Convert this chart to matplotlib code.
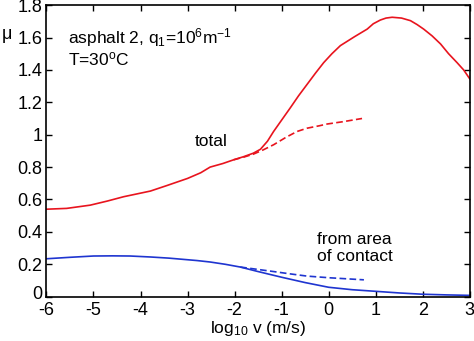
import matplotlib
matplotlib.use("Agg")
import matplotlib.pyplot as plt
import matplotlib.transforms as mtransforms
import numpy as np

plt.rcParams['font.family'] = ['Liberation Sans', 'DejaVu Sans']
plt.rcParams['mathtext.fontset'] = 'custom'
plt.rcParams['mathtext.rm'] = 'Liberation Sans'
plt.rcParams['mathtext.it'] = 'Liberation Sans'
plt.rcParams['axes.unicode_minus'] = False

# total friction, solid
tot_x = [-6.0, -5.57, -5.07, -4.71, -4.36, -3.79, -3.44, -3.0, -2.72, -2.52, -2.25,
         -2.02, -1.8, -1.6, -1.45, -1.3, -1.17, -1.0, -0.815, -0.64, -0.46, -0.28,
         -0.105, 0.07, 0.25, 0.55, 0.82, 0.95, 1.1, 1.22, 1.35, 1.55, 1.74, 1.88,
         2.02, 2.2, 2.38, 2.55, 2.73, 2.87, 3.0]
tot_y = [0.54, 0.545, 0.565, 0.59, 0.617, 0.652, 0.686, 0.73, 0.765, 0.80, 0.822,
         0.845, 0.865, 0.886, 0.91, 0.96, 1.02, 1.09, 1.166, 1.24, 1.31, 1.38,
         1.445, 1.50, 1.55, 1.605, 1.652, 1.685, 1.708, 1.72, 1.725, 1.72, 1.704, 1.68,
         1.652, 1.61, 1.56, 1.50, 1.445, 1.40, 1.345]
# total friction, dashed
totd_x = [-2.02, -1.8, -1.6, -1.4, -1.17, -0.9, -0.67, -0.46, -0.2, -0.03, 0.3, 0.71]
totd_y = [0.845, 0.862, 0.88, 0.905, 0.938, 0.985, 1.02, 1.04, 1.055, 1.066, 1.08, 1.10]
# area of contact, solid
con_x = [-6.0, -5.5, -5.0, -4.6, -4.22, -3.79, -3.4, -3.08, -2.8, -2.52, -2.2, -1.88,
         -1.5, -1.0, -0.5, 0.0, 0.5, 1.0, 1.5, 2.0, 2.5, 3.0]
con_y = [0.234, 0.243, 0.251, 0.252, 0.251, 0.245, 0.238, 0.23, 0.223, 0.214, 0.2, 0.183,
         0.155, 0.12, 0.087, 0.058, 0.043, 0.033, 0.023, 0.015, 0.011, 0.008]
# area of contact, dashed
cond_x = [-1.88, -1.5, -1.17, -0.8, -0.46, 0.0, 0.4, 0.75]
cond_y = [0.183, 0.168, 0.155, 0.14, 0.127, 0.117, 0.11, 0.104]

fig = plt.figure(figsize=(4.74, 3.41), dpi=100)
ax = fig.add_axes([0.098, 0.13, 0.893, 0.855])

ax.plot(tot_x, tot_y, color='#e8141e', lw=1.2)
ax.plot(totd_x, totd_y, color='#e8141e', lw=1.2, ls=(0, (4, 2)))
ax.plot(con_x, con_y, color='#1f35d0', lw=1.2)
ax.plot(cond_x, cond_y, color='#1f35d0', lw=1.2, ls=(0, (4, 2)))

ax.set_xlim(-6, 3)
ax.set_ylim(0, 1.8)
ax.set_xticks(np.arange(-6, 4, 1))
ax.set_yticks([0, 0.2, 0.4, 0.6, 0.8, 1, 1.2, 1.4, 1.6, 1.8])
ax.set_yticklabels(['0', '0.2', '0.4', '0.6', '0.8', '1', '1.2', '1.4', '1.6', '1.8'])
ax.tick_params(direction='in', top=True, right=True, labelsize=13, length=4, width=1)
ax.tick_params(axis='x', pad=4)
ax.tick_params(axis='y', pad=3)
for s in ax.spines.values():
    s.set_linewidth(1.2)

# nudge the "0" label up a little so it clears "-6"
lab0 = ax.get_yticklabels()[0]
lab0.set_transform(lab0.get_transform() +
                   mtransforms.ScaledTranslation(0, 3 / 72, fig.dpi_scale_trans))

ax.set_xlabel(r'log$_{10}$ v (m/s)', fontsize=12.5, labelpad=0)
fig.text(0.004, 0.885, 'μ', fontsize=13)

ax.text(-5.55, 1.6, r'asphalt 2, q$_1$=10$^6$m$^{-1}$', fontsize=12.5, va='center')
ax.text(-5.55, 1.465, r'T=30$^{\rm o}$C', fontsize=12.5, va='center')
ax.text(-2.85, 0.955, 'total', fontsize=12.5, va='center')
ax.text(-0.25, 0.3, 'from area\nof contact', fontsize=12.5, va='center', linespacing=1.1)

fig.savefig('out.png', dpi=100)
